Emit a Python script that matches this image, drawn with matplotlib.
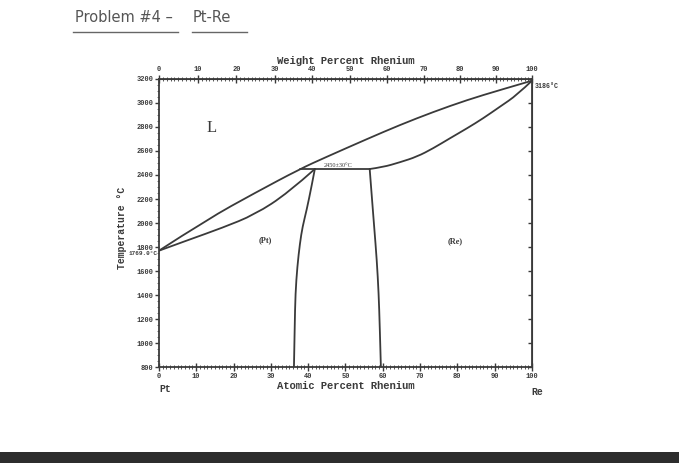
import numpy as np
import matplotlib.pyplot as plt
from matplotlib.lines import Line2D
from matplotlib.patches import Rectangle, PathPatch
from matplotlib.path import Path
from matplotlib.ticker import MultipleLocator

# Pt-Re phase diagram, compositions in atomic % Re, temperatures in degC
liq_x = [0, 13.1, 25.7, 37.8, 44.5, 55.8, 64.6, 73.5, 82.6, 91.4, 100]
liq_T = [1769, 2033, 2250, 2450, 2545, 2700, 2817, 2925, 3025, 3108, 3186]

pt_sol_x = [0, 8.0, 17.0, 25.7, 34.6, 41.8]
pt_sol_T = [1769, 1860, 1960, 2070, 2250, 2450]

re_sol_x = [56.5, 60.0, 64.6, 69.2, 73.5, 78.0, 82.6, 86.9, 91.4, 96.0, 100]
re_sol_T = [2450, 2465, 2506, 2553, 2622, 2706, 2789, 2872, 2969, 3067, 3186]

pt_solvus_x = [41.8, 40.9, 39.6, 38.5, 37.8, 37.1, 36.6, 36.4, 36.2]
pt_solvus_T = [2450, 2303, 2108, 1969, 1831, 1636, 1414, 1136, 800]

re_solvus_x = [56.5, 57.0, 57.7, 58.4, 58.9, 59.2, 59.5]
re_solvus_T = [2450, 2247, 1969, 1692, 1414, 1136, 800]

peri_x = [37.8, 56.5]
peri_T = [2450, 2450]

M_PT = 195.08
M_RE = 186.207


def at_to_wt(x):
    x = np.asarray(x, dtype=float)
    return 100 * x * M_RE / (x * M_RE + (100 - x) * M_PT)


def wt_to_at(w):
    w = np.asarray(w, dtype=float)
    a = w / M_RE
    b = (100 - w) / M_PT
    return 100 * a / (a + b)


def smooth_curve(ax, xs, ys, **kw):
    # quadratic bezier through the midpoints, read points act as controls
    verts = [(xs[0], ys[0])]
    codes = [Path.MOVETO]
    for i in range(1, len(xs) - 1):
        mid = ((xs[i] + xs[i + 1]) / 2, (ys[i] + ys[i + 1]) / 2)
        if i == len(xs) - 2:
            mid = (xs[-1], ys[-1])
        verts += [(xs[i], ys[i]), mid]
        codes += [Path.CURVE3, Path.CURVE3]
    if len(xs) == 2:
        verts.append((xs[1], ys[1]))
        codes.append(Path.LINETO)
    ax.add_patch(PathPatch(Path(verts, codes), fill=False, **kw))


ink = "#3a3a3a"
mono = "Liberation Mono"

fig = plt.figure(figsize=(6.79, 4.63), dpi=100)
ax = fig.add_axes([0.234, 0.2073, 0.5495, 0.6221])

for xs, ts in [(liq_x, liq_T), (pt_sol_x, pt_sol_T), (re_sol_x, re_sol_T),
               (pt_solvus_x, pt_solvus_T), (re_solvus_x, re_solvus_T),
               (peri_x, peri_T)]:
    smooth_curve(ax, xs, ts, edgecolor=ink, lw=1.3, capstyle="round")

ax.set_xlim(0, 100)
ax.set_ylim(800, 3200)
for s in ax.spines.values():
    s.set_color(ink)
    s.set_linewidth(1.3)

ax.xaxis.set_major_locator(MultipleLocator(10))
ax.xaxis.set_minor_locator(MultipleLocator(1))
ax.yaxis.set_major_locator(MultipleLocator(200))
ax.yaxis.set_minor_locator(MultipleLocator(50))
ax.tick_params(axis="x", which="major", direction="inout", length=6, width=1,
               color=ink, labelsize=5, pad=1, labelcolor=ink)
ax.tick_params(axis="x", which="minor", direction="inout", length=2.5, width=0.6,
               color=ink)
ax.tick_params(axis="y", which="major", direction="out", length=3, width=1,
               color=ink, labelsize=5, pad=1, labelcolor=ink)
ax.tick_params(axis="y", which="minor", direction="out", length=1.2, width=0.5,
               color=ink)
for lab in ax.get_xticklabels() + ax.get_yticklabels():
    lab.set_family(mono)
    lab.set_weight("bold")

right = ax.secondary_yaxis("right")
right.yaxis.set_major_locator(MultipleLocator(200))
right.tick_params(direction="in", length=3, width=1, color=ink, labelright=False)
right.spines["right"].set_color(ink)

top = ax.secondary_xaxis("top", functions=(at_to_wt, wt_to_at))
top.xaxis.set_major_locator(MultipleLocator(10))
top.xaxis.set_minor_locator(MultipleLocator(1))
top.tick_params(axis="x", which="major", direction="inout", length=6, width=1,
                color=ink, labelsize=5, pad=1, labelcolor=ink)
top.tick_params(axis="x", which="minor", direction="inout", length=2.5, width=0.6,
                color=ink)
top.spines["top"].set_color(ink)
for lab in top.get_xticklabels():
    lab.set_family(mono)
    lab.set_weight("bold")
top.set_xlabel("Weight Percent Rhenium", family=mono, weight="bold",
               fontsize=7.6, color=ink, labelpad=2)

ax.set_xlabel("Atomic Percent Rhenium", family=mono, weight="bold",
              fontsize=7.6, color=ink, labelpad=1)
ax.set_ylabel("Temperature °C", family=mono, weight="bold",
              fontsize=7, color=ink)
ax.yaxis.set_label_coords(-0.085, 0.483)

# phase labels and special points
ax.text(14, 2790, "L", family="Liberation Serif", fontsize=12, color=ink,
        ha="center", va="center")
ax.text(28.4, 1858, "(Pt)", family="Liberation Serif", weight="bold",
        fontsize=6, color=ink, ha="center", va="center")
ax.text(79.4, 1850, "(Re)", family="Liberation Serif", weight="bold",
        fontsize=6, color=ink, ha="center", va="center")
ax.text(48.0, 2458, "2450±30°C", family="Liberation Serif", fontsize=4.5,
        color=ink, ha="center", va="bottom")
ax.text(-0.3, 1745, "1769.0°C", family=mono, weight="bold", fontsize=4.3,
        color=ink, ha="right", va="center")
ax.text(100.8, 3140, "3186°C", family=mono, weight="bold", fontsize=4.8,
        color=ink, ha="left", va="center")
ax.text(0, -0.075, "Pt", transform=ax.get_xaxis_transform(), family=mono,
        weight="bold", fontsize=7, color=ink, ha="left", va="center")
ax.text(101.3, -0.087, "Re", transform=ax.get_xaxis_transform(), family=mono,
        weight="bold", fontsize=7, color=ink, ha="center", va="center")

# handwritten note and underline
fig.text(75 / 679, 1 - 18 / 463, "Problem #4 –", fontsize=10.5,
         color="#555555", ha="left", va="center", family="DejaVu Sans")
fig.text(193 / 679, 1 - 18 / 463, "Pt-Re", fontsize=10.5,
         color="#555555", ha="left", va="center", family="DejaVu Sans")
fig.add_artist(Line2D([73 / 679, 178 / 679], [1 - 32 / 463, 1 - 32 / 463],
                      color="#666666", lw=1))
fig.add_artist(Line2D([192 / 679, 247 / 679], [1 - 32 / 463, 1 - 32 / 463],
                      color="#666666", lw=1))

# dark strip along the bottom of the screenshot
fig.add_artist(Rectangle((0, 0), 1, 11 / 463, transform=fig.transFigure,
                         color="#2d2d2d", lw=0))

fig.savefig("out.png", dpi=100)
